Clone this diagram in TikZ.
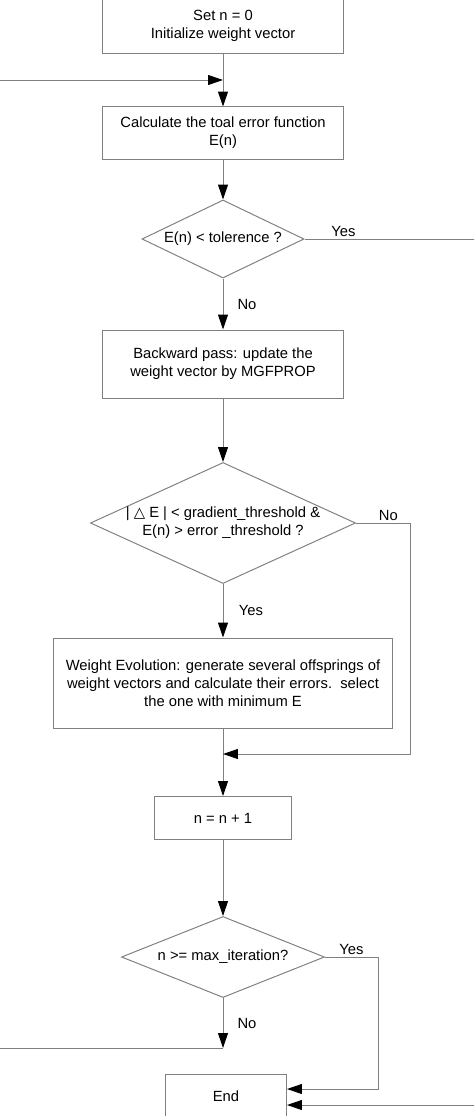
\documentclass[tikz,border=0pt]{standalone}
\usepackage{fontspec}
\setmainfont{Liberation Sans}
\newfontfamily\symfont{DejaVu Sans}
\usepackage{tikz}
\usetikzlibrary{arrows.meta,positioning,shapes.geometric}
\definecolor{linegray}{RGB}{128,128,128}
\tikzset{font=\fontsize{10.5}{12.8}\selectfont}
\tikzstyle{proc}=[rectangle,draw=linegray,line width=0.7pt,align=center,inner sep=0pt]
\tikzstyle{dec}=[diamond,draw=linegray,line width=0.7pt,align=center,inner sep=0pt]
\tikzstyle{lbl}=[inner sep=1pt]
\tikzstyle{ln}=[draw=linegray,line width=0.7pt]
\tikzstyle{arr}=[ln,-{Triangle[length=10.5pt,width=7pt,color=black]}]

\begin{document}
\begin{tikzpicture}[x=0.025cm,y=-0.025cm]
\useasboundingbox (0,0) rectangle (474,1116);
\clip (0,0) rectangle (474,1116);
\node[proc,minimum width=6cm,minimum height=1.35cm] (Init) at (223,26) {Set n = 0\\Initialize weight vector};
\node[proc,minimum width=6cm,minimum height=1.3cm] (Err) at (223,133) {Calculate the toal error function\\E(n)};
\node[dec,aspect=2.08,minimum width=4.05cm,minimum height=1.95cm] (Tol) at (223,239) {E(n) < tolerence ?};
\node[proc,minimum width=6cm,minimum height=1.7cm] (Back) at (223,364) {Backward pass: update the\\weight vector by MGFPROP};
\node[dec,aspect=2.19,minimum width=6.625cm,minimum height=3.025cm] (Grad) at (223,523) {| {\symfont △} E | < gradient\_threshold \&\\E(n) > error \_threshold ?};
\node[proc,minimum width=8.45cm,minimum height=2.25cm] (Evol) at (223,683) {Weight Evolution: generate several offsprings of\\weight vectors and calculate their errors.\ \ select\\the one with minimum E};
\node[proc,minimum width=3.4cm,minimum height=1.075cm] (Inc) at (223,818) {n = n + 1};
\node[dec,aspect=2.5,minimum width=5.075cm,minimum height=2.025cm] (Max) at (223,957) {n >= max\_iteration?};
\node[proc,minimum width=3.025cm,minimum height=1.1cm] (End) at (226,1096) {End};
% junctions and loop ends
\coordinate (J1) at (223,80);
\coordinate (LoopIn) at (-20,80);
\coordinate (J2) at (223,754);
\coordinate (GNo) at (410,523);
\coordinate (J3) at (223,1048);
\coordinate (LoopOut) at (-20,1048);
\coordinate (TYes) at (490,239);
\coordinate (TDown) at (490,1105);
\coordinate (MYes) at (378,957);
\coordinate (MDown) at (378,1089);
\path
(Init) edge[arr] (Err)
(Err) edge[arr] (Tol)
(Tol) edge[arr] node[lbl,right=9pt] {No} (Back)
(Back) edge[arr] (Grad)
(Grad) edge[arr] node[lbl,right=10pt] {Yes} (Evol)
(Evol) edge[arr] (Inc)
(Inc) edge[arr] (Max);
\draw[arr] (LoopIn) -- (J1);
\draw[arr] (Grad.east) -- node[lbl,above,pos=0.6] {No} (GNo) |- (J2);
\draw[arr] (Max.south) -- node[lbl,right=9pt] {No} (J3);
\draw[ln] (J3) -- (LoopOut);
\draw[arr] (Tol.east) -- node[lbl,above,pos=0.21] {Yes} (TYes) -- (TDown) -- (End.east |- TDown);
\draw[arr] (Max.east) -- node[lbl,above] {Yes} (MYes) -- (MDown) -- (End.east |- MDown);
\end{tikzpicture}
\end{document}
